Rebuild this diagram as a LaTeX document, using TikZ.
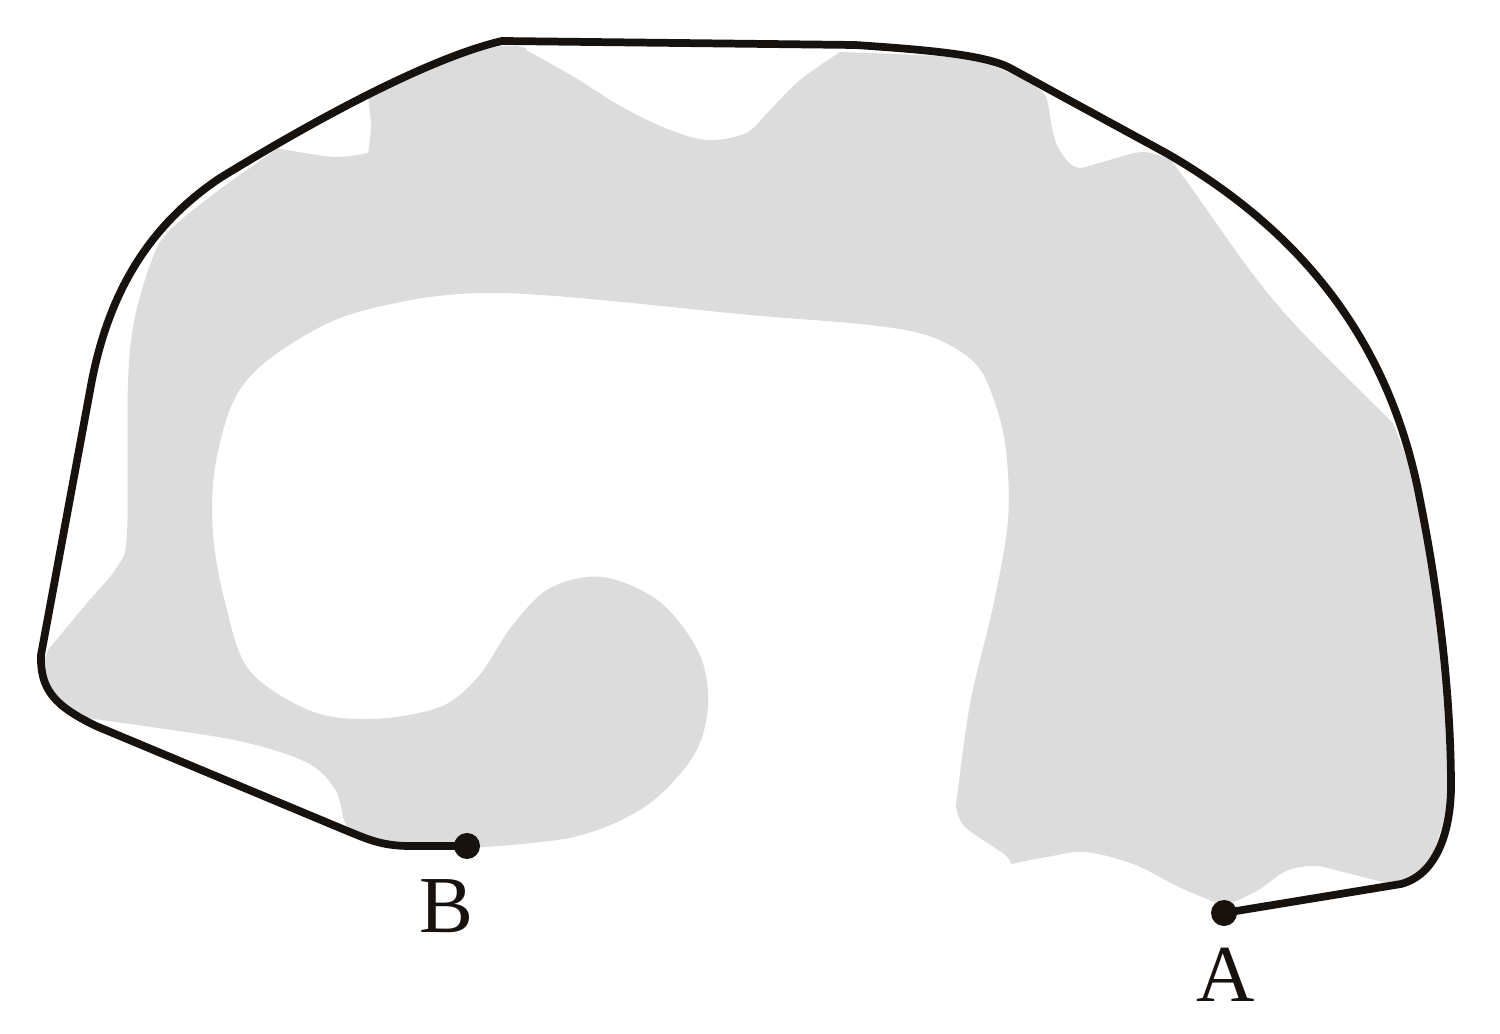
\documentclass[tikz,border=0pt]{standalone}
\usepackage{fontspec}
\setmainfont{Liberation Serif}
\definecolor{blobgray}{HTML}{DCDCDC}
\definecolor{ink}{HTML}{17120E}
\tikzset{
  outline/.style={draw=ink, line width=2.2pt, line join=round, line cap=round},
  enddot/.style={fill=ink},
  ptlabel/.style={font=\fontsize{23}{23}\selectfont, text=ink, inner sep=0pt}
}
\begin{document}
\begin{tikzpicture}[x=0.01cm,y=-0.01cm]
\useasboundingbox (0,0) rectangle (1500,1034);
% gray region
\fill[blobgray]
  plot[smooth,tension=0.55] coordinates {(470,848) (574,837) (646,806) (694,755) (708,704) (699,653) (660,602) (603,577) (550,588) (512,626) (478,677) (440,707) (373,719) (311,711) (249,670) (225,602) (213,534) (215,467) (234,400) (268,360) (335,320) (411,300) (478,293) (541,295) (622,302) (750,315) (870,325) (932,337) (975,363) (994,400) (1006,450) (1008,520) (994,602) (970,704) (956,806)}
  -- plot[smooth,tension=0.55] coordinates {(956,806) (965,827) (1004,854) (1011,864)}
  -- plot[smooth,tension=0.55] coordinates {(1011,864) (1047,857) (1085,852) (1133,864) (1181,888) (1224,906)}
  -- plot[smooth,tension=0.55] coordinates {(1224,906) (1257,891) (1286,871) (1315,866) (1343,872) (1390,884)}
  -- plot[smooth,tension=0.55] coordinates {(1390,884) (1420,874) (1436,845) (1448,789) (1444,683) (1430,567) (1412,477) (1393,423)}
  -- plot[smooth,tension=0.55] coordinates {(1393,423) (1300,330) (1252,273) (1195,193) (1171,160)}
  -- plot[smooth,tension=0.55] coordinates {(1171,160) (1142,152) (1099,163) (1075,167) (1056,143) (1047,100) (1040,90)}
  -- plot[smooth,tension=0.55] coordinates {(1040,90) (1010,73) (960,58) (840,52)}
  -- plot[smooth,tension=0.55] coordinates {(840,52) (800,80) (770,110) (746,133) (708,140) (670,130) (622,107) (574,77) (526,50)}
  -- plot[smooth,tension=0.55] coordinates {(526,48) (502,46) (450,60) (400,82) (368,97)}
  -- plot[smooth,tension=0.55] coordinates {(368,97) (371,127) (368,153)}
  -- plot[smooth,tension=0.55] coordinates {(368,153) (335,157) (287,150) (278,148)}
  -- plot[smooth,tension=0.55] coordinates {(278,148) (215,193) (170,230) (153,257) (135,317) (128,383) (127,533) (117,567) (87,603) (48,650)}
  -- plot[smooth,tension=0.55] coordinates {(48,650) (43,677) (62,704) (86,718)}
  -- plot[smooth,tension=0.55] coordinates {(86,718) (144,726) (239,741) (306,762) (335,789) (344,820) (350,832)}
  -- plot[smooth,tension=0.55] coordinates {(350,832) (405,846) (470,848)}
  -- cycle;
% end points
\coordinate (B) at (467,846);
\coordinate (A) at (1224,913);
% outline
\draw[outline] (B) -- (410,846) .. controls (380,846) and (365,838) .. (345,830)
  -- (96,726) .. controls (55,706) and (40,690) .. (41,655)
  -- (92,380) .. controls (110,290) and (150,225) .. (220,178)
  .. controls (290,135) and (420,60) .. (502,41)
  -- (855,45) .. controls (930,50) and (985,55) .. (1010,68)
  -- (1166,153) .. controls (1300,230) and (1390,340) .. (1420,500)
  .. controls (1440,600) and (1451,700) .. (1451,789)
  .. controls (1450,835) and (1435,875) .. (1401,884)
  -- (A);
\fill[enddot] (B) circle[radius=0.13cm];
\fill[enddot] (A) circle[radius=0.13cm];
% labels
\node[ptlabel] (labB) at (446,906) {B};
\node[ptlabel] (labA) at (1226,975) {A};
\end{tikzpicture}
\end{document}
